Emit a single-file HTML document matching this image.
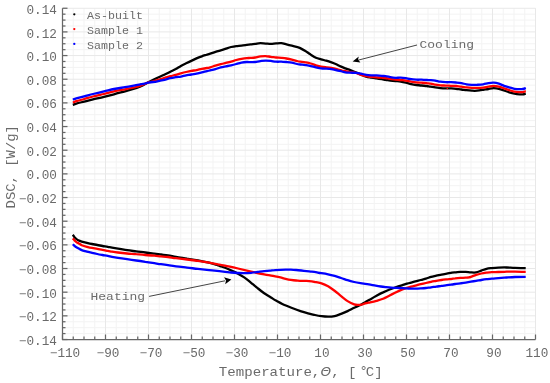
<!DOCTYPE html>
<html><head><meta charset="utf-8"><title>DSC</title>
<style>
html,body{margin:0;padding:0;background:#fff;width:550px;height:383px;overflow:hidden}
svg{display:block}
text{font-family:"Liberation Mono","DejaVu Sans Mono",monospace;fill:#6a6a6a}
</style></head><body>
<svg width="550" height="383" viewBox="0 0 550 383">
<rect width="550" height="383" fill="#fff"/>
<g stroke-width="1">
<line x1="73.25" y1="8.2" x2="73.25" y2="339.5" stroke="#f3f3f3"/>
<line x1="84.00" y1="8.2" x2="84.00" y2="339.5" stroke="#f3f3f3"/>
<line x1="94.75" y1="8.2" x2="94.75" y2="339.5" stroke="#f3f3f3"/>
<line x1="116.25" y1="8.2" x2="116.25" y2="339.5" stroke="#f3f3f3"/>
<line x1="127.00" y1="8.2" x2="127.00" y2="339.5" stroke="#f3f3f3"/>
<line x1="137.75" y1="8.2" x2="137.75" y2="339.5" stroke="#f3f3f3"/>
<line x1="159.25" y1="8.2" x2="159.25" y2="339.5" stroke="#f3f3f3"/>
<line x1="170.00" y1="8.2" x2="170.00" y2="339.5" stroke="#f3f3f3"/>
<line x1="180.75" y1="8.2" x2="180.75" y2="339.5" stroke="#f3f3f3"/>
<line x1="202.25" y1="8.2" x2="202.25" y2="339.5" stroke="#f3f3f3"/>
<line x1="213.00" y1="8.2" x2="213.00" y2="339.5" stroke="#f3f3f3"/>
<line x1="223.75" y1="8.2" x2="223.75" y2="339.5" stroke="#f3f3f3"/>
<line x1="245.25" y1="8.2" x2="245.25" y2="339.5" stroke="#f3f3f3"/>
<line x1="256.00" y1="8.2" x2="256.00" y2="339.5" stroke="#f3f3f3"/>
<line x1="266.75" y1="8.2" x2="266.75" y2="339.5" stroke="#f3f3f3"/>
<line x1="288.25" y1="8.2" x2="288.25" y2="339.5" stroke="#f3f3f3"/>
<line x1="299.00" y1="8.2" x2="299.00" y2="339.5" stroke="#f3f3f3"/>
<line x1="309.75" y1="8.2" x2="309.75" y2="339.5" stroke="#f3f3f3"/>
<line x1="331.25" y1="8.2" x2="331.25" y2="339.5" stroke="#f3f3f3"/>
<line x1="342.00" y1="8.2" x2="342.00" y2="339.5" stroke="#f3f3f3"/>
<line x1="352.75" y1="8.2" x2="352.75" y2="339.5" stroke="#f3f3f3"/>
<line x1="374.25" y1="8.2" x2="374.25" y2="339.5" stroke="#f3f3f3"/>
<line x1="385.00" y1="8.2" x2="385.00" y2="339.5" stroke="#f3f3f3"/>
<line x1="395.75" y1="8.2" x2="395.75" y2="339.5" stroke="#f3f3f3"/>
<line x1="417.25" y1="8.2" x2="417.25" y2="339.5" stroke="#f3f3f3"/>
<line x1="428.00" y1="8.2" x2="428.00" y2="339.5" stroke="#f3f3f3"/>
<line x1="438.75" y1="8.2" x2="438.75" y2="339.5" stroke="#f3f3f3"/>
<line x1="460.25" y1="8.2" x2="460.25" y2="339.5" stroke="#f3f3f3"/>
<line x1="471.00" y1="8.2" x2="471.00" y2="339.5" stroke="#f3f3f3"/>
<line x1="481.75" y1="8.2" x2="481.75" y2="339.5" stroke="#f3f3f3"/>
<line x1="503.25" y1="8.2" x2="503.25" y2="339.5" stroke="#f3f3f3"/>
<line x1="514.00" y1="8.2" x2="514.00" y2="339.5" stroke="#f3f3f3"/>
<line x1="524.75" y1="8.2" x2="524.75" y2="339.5" stroke="#f3f3f3"/>
<line x1="62.5" y1="14.17" x2="535.5" y2="14.17" stroke="#f3f3f3"/>
<line x1="62.5" y1="20.08" x2="535.5" y2="20.08" stroke="#f3f3f3"/>
<line x1="62.5" y1="26.00" x2="535.5" y2="26.00" stroke="#f3f3f3"/>
<line x1="62.5" y1="37.83" x2="535.5" y2="37.83" stroke="#f3f3f3"/>
<line x1="62.5" y1="43.74" x2="535.5" y2="43.74" stroke="#f3f3f3"/>
<line x1="62.5" y1="49.66" x2="535.5" y2="49.66" stroke="#f3f3f3"/>
<line x1="62.5" y1="61.49" x2="535.5" y2="61.49" stroke="#f3f3f3"/>
<line x1="62.5" y1="67.40" x2="535.5" y2="67.40" stroke="#f3f3f3"/>
<line x1="62.5" y1="73.32" x2="535.5" y2="73.32" stroke="#f3f3f3"/>
<line x1="62.5" y1="85.15" x2="535.5" y2="85.15" stroke="#f3f3f3"/>
<line x1="62.5" y1="91.06" x2="535.5" y2="91.06" stroke="#f3f3f3"/>
<line x1="62.5" y1="96.98" x2="535.5" y2="96.98" stroke="#f3f3f3"/>
<line x1="62.5" y1="108.81" x2="535.5" y2="108.81" stroke="#f3f3f3"/>
<line x1="62.5" y1="114.72" x2="535.5" y2="114.72" stroke="#f3f3f3"/>
<line x1="62.5" y1="120.64" x2="535.5" y2="120.64" stroke="#f3f3f3"/>
<line x1="62.5" y1="132.47" x2="535.5" y2="132.47" stroke="#f3f3f3"/>
<line x1="62.5" y1="138.38" x2="535.5" y2="138.38" stroke="#f3f3f3"/>
<line x1="62.5" y1="144.30" x2="535.5" y2="144.30" stroke="#f3f3f3"/>
<line x1="62.5" y1="156.13" x2="535.5" y2="156.13" stroke="#f3f3f3"/>
<line x1="62.5" y1="162.04" x2="535.5" y2="162.04" stroke="#f3f3f3"/>
<line x1="62.5" y1="167.96" x2="535.5" y2="167.96" stroke="#f3f3f3"/>
<line x1="62.5" y1="179.79" x2="535.5" y2="179.79" stroke="#f3f3f3"/>
<line x1="62.5" y1="185.71" x2="535.5" y2="185.71" stroke="#f3f3f3"/>
<line x1="62.5" y1="191.62" x2="535.5" y2="191.62" stroke="#f3f3f3"/>
<line x1="62.5" y1="203.45" x2="535.5" y2="203.45" stroke="#f3f3f3"/>
<line x1="62.5" y1="209.37" x2="535.5" y2="209.37" stroke="#f3f3f3"/>
<line x1="62.5" y1="215.28" x2="535.5" y2="215.28" stroke="#f3f3f3"/>
<line x1="62.5" y1="227.11" x2="535.5" y2="227.11" stroke="#f3f3f3"/>
<line x1="62.5" y1="233.03" x2="535.5" y2="233.03" stroke="#f3f3f3"/>
<line x1="62.5" y1="238.94" x2="535.5" y2="238.94" stroke="#f3f3f3"/>
<line x1="62.5" y1="250.77" x2="535.5" y2="250.77" stroke="#f3f3f3"/>
<line x1="62.5" y1="256.69" x2="535.5" y2="256.69" stroke="#f3f3f3"/>
<line x1="62.5" y1="262.60" x2="535.5" y2="262.60" stroke="#f3f3f3"/>
<line x1="62.5" y1="274.43" x2="535.5" y2="274.43" stroke="#f3f3f3"/>
<line x1="62.5" y1="280.35" x2="535.5" y2="280.35" stroke="#f3f3f3"/>
<line x1="62.5" y1="286.26" x2="535.5" y2="286.26" stroke="#f3f3f3"/>
<line x1="62.5" y1="298.09" x2="535.5" y2="298.09" stroke="#f3f3f3"/>
<line x1="62.5" y1="304.01" x2="535.5" y2="304.01" stroke="#f3f3f3"/>
<line x1="62.5" y1="309.92" x2="535.5" y2="309.92" stroke="#f3f3f3"/>
<line x1="62.5" y1="321.75" x2="535.5" y2="321.75" stroke="#f3f3f3"/>
<line x1="62.5" y1="327.67" x2="535.5" y2="327.67" stroke="#f3f3f3"/>
<line x1="62.5" y1="333.58" x2="535.5" y2="333.58" stroke="#f3f3f3"/>
<line x1="62.50" y1="8.2" x2="62.50" y2="339.5" stroke="#e8e8e8"/>
<line x1="105.50" y1="8.2" x2="105.50" y2="339.5" stroke="#e8e8e8"/>
<line x1="148.50" y1="8.2" x2="148.50" y2="339.5" stroke="#e8e8e8"/>
<line x1="191.50" y1="8.2" x2="191.50" y2="339.5" stroke="#e8e8e8"/>
<line x1="234.50" y1="8.2" x2="234.50" y2="339.5" stroke="#e8e8e8"/>
<line x1="277.50" y1="8.2" x2="277.50" y2="339.5" stroke="#e8e8e8"/>
<line x1="320.50" y1="8.2" x2="320.50" y2="339.5" stroke="#e8e8e8"/>
<line x1="363.50" y1="8.2" x2="363.50" y2="339.5" stroke="#e8e8e8"/>
<line x1="406.50" y1="8.2" x2="406.50" y2="339.5" stroke="#e8e8e8"/>
<line x1="449.50" y1="8.2" x2="449.50" y2="339.5" stroke="#e8e8e8"/>
<line x1="492.50" y1="8.2" x2="492.50" y2="339.5" stroke="#e8e8e8"/>
<line x1="535.50" y1="8.2" x2="535.50" y2="339.5" stroke="#e8e8e8"/>
<line x1="62.5" y1="8.25" x2="535.5" y2="8.25" stroke="#e8e8e8"/>
<line x1="62.5" y1="31.91" x2="535.5" y2="31.91" stroke="#e8e8e8"/>
<line x1="62.5" y1="55.57" x2="535.5" y2="55.57" stroke="#e8e8e8"/>
<line x1="62.5" y1="79.23" x2="535.5" y2="79.23" stroke="#e8e8e8"/>
<line x1="62.5" y1="102.89" x2="535.5" y2="102.89" stroke="#e8e8e8"/>
<line x1="62.5" y1="126.55" x2="535.5" y2="126.55" stroke="#e8e8e8"/>
<line x1="62.5" y1="150.21" x2="535.5" y2="150.21" stroke="#e8e8e8"/>
<line x1="62.5" y1="173.88" x2="535.5" y2="173.88" stroke="#e8e8e8"/>
<line x1="62.5" y1="197.54" x2="535.5" y2="197.54" stroke="#e8e8e8"/>
<line x1="62.5" y1="221.20" x2="535.5" y2="221.20" stroke="#e8e8e8"/>
<line x1="62.5" y1="244.86" x2="535.5" y2="244.86" stroke="#e8e8e8"/>
<line x1="62.5" y1="268.52" x2="535.5" y2="268.52" stroke="#e8e8e8"/>
<line x1="62.5" y1="292.18" x2="535.5" y2="292.18" stroke="#e8e8e8"/>
<line x1="62.5" y1="315.84" x2="535.5" y2="315.84" stroke="#e8e8e8"/>
<line x1="62.5" y1="339.50" x2="535.5" y2="339.50" stroke="#e8e8e8"/>
</g>
<g stroke="#666" stroke-width="1.25">
<line x1="62.5" y1="8.2" x2="62.5" y2="340.0"/>
<line x1="62.0" y1="339.5" x2="535.5" y2="339.5"/>
<line x1="62.50" y1="339.5" x2="62.50" y2="334.5"/>
<line x1="73.25" y1="339.5" x2="73.25" y2="336.5"/>
<line x1="84.00" y1="339.5" x2="84.00" y2="336.5"/>
<line x1="94.75" y1="339.5" x2="94.75" y2="336.5"/>
<line x1="105.50" y1="339.5" x2="105.50" y2="334.5"/>
<line x1="116.25" y1="339.5" x2="116.25" y2="336.5"/>
<line x1="127.00" y1="339.5" x2="127.00" y2="336.5"/>
<line x1="137.75" y1="339.5" x2="137.75" y2="336.5"/>
<line x1="148.50" y1="339.5" x2="148.50" y2="334.5"/>
<line x1="159.25" y1="339.5" x2="159.25" y2="336.5"/>
<line x1="170.00" y1="339.5" x2="170.00" y2="336.5"/>
<line x1="180.75" y1="339.5" x2="180.75" y2="336.5"/>
<line x1="191.50" y1="339.5" x2="191.50" y2="334.5"/>
<line x1="202.25" y1="339.5" x2="202.25" y2="336.5"/>
<line x1="213.00" y1="339.5" x2="213.00" y2="336.5"/>
<line x1="223.75" y1="339.5" x2="223.75" y2="336.5"/>
<line x1="234.50" y1="339.5" x2="234.50" y2="334.5"/>
<line x1="245.25" y1="339.5" x2="245.25" y2="336.5"/>
<line x1="256.00" y1="339.5" x2="256.00" y2="336.5"/>
<line x1="266.75" y1="339.5" x2="266.75" y2="336.5"/>
<line x1="277.50" y1="339.5" x2="277.50" y2="334.5"/>
<line x1="288.25" y1="339.5" x2="288.25" y2="336.5"/>
<line x1="299.00" y1="339.5" x2="299.00" y2="336.5"/>
<line x1="309.75" y1="339.5" x2="309.75" y2="336.5"/>
<line x1="320.50" y1="339.5" x2="320.50" y2="334.5"/>
<line x1="331.25" y1="339.5" x2="331.25" y2="336.5"/>
<line x1="342.00" y1="339.5" x2="342.00" y2="336.5"/>
<line x1="352.75" y1="339.5" x2="352.75" y2="336.5"/>
<line x1="363.50" y1="339.5" x2="363.50" y2="334.5"/>
<line x1="374.25" y1="339.5" x2="374.25" y2="336.5"/>
<line x1="385.00" y1="339.5" x2="385.00" y2="336.5"/>
<line x1="395.75" y1="339.5" x2="395.75" y2="336.5"/>
<line x1="406.50" y1="339.5" x2="406.50" y2="334.5"/>
<line x1="417.25" y1="339.5" x2="417.25" y2="336.5"/>
<line x1="428.00" y1="339.5" x2="428.00" y2="336.5"/>
<line x1="438.75" y1="339.5" x2="438.75" y2="336.5"/>
<line x1="449.50" y1="339.5" x2="449.50" y2="334.5"/>
<line x1="460.25" y1="339.5" x2="460.25" y2="336.5"/>
<line x1="471.00" y1="339.5" x2="471.00" y2="336.5"/>
<line x1="481.75" y1="339.5" x2="481.75" y2="336.5"/>
<line x1="492.50" y1="339.5" x2="492.50" y2="334.5"/>
<line x1="503.25" y1="339.5" x2="503.25" y2="336.5"/>
<line x1="514.00" y1="339.5" x2="514.00" y2="336.5"/>
<line x1="524.75" y1="339.5" x2="524.75" y2="336.5"/>
<line x1="535.50" y1="339.5" x2="535.50" y2="334.5"/>
<line x1="62.5" y1="8.25" x2="67.5" y2="8.25"/>
<line x1="62.5" y1="14.17" x2="65.5" y2="14.17"/>
<line x1="62.5" y1="20.08" x2="65.5" y2="20.08"/>
<line x1="62.5" y1="26.00" x2="65.5" y2="26.00"/>
<line x1="62.5" y1="31.91" x2="67.5" y2="31.91"/>
<line x1="62.5" y1="37.83" x2="65.5" y2="37.83"/>
<line x1="62.5" y1="43.74" x2="65.5" y2="43.74"/>
<line x1="62.5" y1="49.66" x2="65.5" y2="49.66"/>
<line x1="62.5" y1="55.57" x2="67.5" y2="55.57"/>
<line x1="62.5" y1="61.49" x2="65.5" y2="61.49"/>
<line x1="62.5" y1="67.40" x2="65.5" y2="67.40"/>
<line x1="62.5" y1="73.32" x2="65.5" y2="73.32"/>
<line x1="62.5" y1="79.23" x2="67.5" y2="79.23"/>
<line x1="62.5" y1="85.15" x2="65.5" y2="85.15"/>
<line x1="62.5" y1="91.06" x2="65.5" y2="91.06"/>
<line x1="62.5" y1="96.98" x2="65.5" y2="96.98"/>
<line x1="62.5" y1="102.89" x2="67.5" y2="102.89"/>
<line x1="62.5" y1="108.81" x2="65.5" y2="108.81"/>
<line x1="62.5" y1="114.72" x2="65.5" y2="114.72"/>
<line x1="62.5" y1="120.64" x2="65.5" y2="120.64"/>
<line x1="62.5" y1="126.55" x2="67.5" y2="126.55"/>
<line x1="62.5" y1="132.47" x2="65.5" y2="132.47"/>
<line x1="62.5" y1="138.38" x2="65.5" y2="138.38"/>
<line x1="62.5" y1="144.30" x2="65.5" y2="144.30"/>
<line x1="62.5" y1="150.21" x2="67.5" y2="150.21"/>
<line x1="62.5" y1="156.13" x2="65.5" y2="156.13"/>
<line x1="62.5" y1="162.04" x2="65.5" y2="162.04"/>
<line x1="62.5" y1="167.96" x2="65.5" y2="167.96"/>
<line x1="62.5" y1="173.88" x2="67.5" y2="173.88"/>
<line x1="62.5" y1="179.79" x2="65.5" y2="179.79"/>
<line x1="62.5" y1="185.71" x2="65.5" y2="185.71"/>
<line x1="62.5" y1="191.62" x2="65.5" y2="191.62"/>
<line x1="62.5" y1="197.54" x2="67.5" y2="197.54"/>
<line x1="62.5" y1="203.45" x2="65.5" y2="203.45"/>
<line x1="62.5" y1="209.37" x2="65.5" y2="209.37"/>
<line x1="62.5" y1="215.28" x2="65.5" y2="215.28"/>
<line x1="62.5" y1="221.20" x2="67.5" y2="221.20"/>
<line x1="62.5" y1="227.11" x2="65.5" y2="227.11"/>
<line x1="62.5" y1="233.03" x2="65.5" y2="233.03"/>
<line x1="62.5" y1="238.94" x2="65.5" y2="238.94"/>
<line x1="62.5" y1="244.86" x2="67.5" y2="244.86"/>
<line x1="62.5" y1="250.77" x2="65.5" y2="250.77"/>
<line x1="62.5" y1="256.69" x2="65.5" y2="256.69"/>
<line x1="62.5" y1="262.60" x2="65.5" y2="262.60"/>
<line x1="62.5" y1="268.52" x2="67.5" y2="268.52"/>
<line x1="62.5" y1="274.43" x2="65.5" y2="274.43"/>
<line x1="62.5" y1="280.35" x2="65.5" y2="280.35"/>
<line x1="62.5" y1="286.26" x2="65.5" y2="286.26"/>
<line x1="62.5" y1="292.18" x2="67.5" y2="292.18"/>
<line x1="62.5" y1="298.09" x2="65.5" y2="298.09"/>
<line x1="62.5" y1="304.01" x2="65.5" y2="304.01"/>
<line x1="62.5" y1="309.92" x2="65.5" y2="309.92"/>
<line x1="62.5" y1="315.84" x2="67.5" y2="315.84"/>
<line x1="62.5" y1="321.75" x2="65.5" y2="321.75"/>
<line x1="62.5" y1="327.67" x2="65.5" y2="327.67"/>
<line x1="62.5" y1="333.58" x2="65.5" y2="333.58"/>
<line x1="62.5" y1="339.50" x2="67.5" y2="339.50"/>
</g>
<text transform="translate(56.90,13.85) scale(1,0.950)" font-size="12.7" text-anchor="end" fill="#777">0.14</text>
<text transform="translate(56.90,37.51) scale(1,0.950)" font-size="12.7" text-anchor="end" fill="#777">0.12</text>
<text transform="translate(56.90,61.17) scale(1,0.950)" font-size="12.7" text-anchor="end" fill="#777">0.10</text>
<text transform="translate(56.90,84.83) scale(1,0.950)" font-size="12.7" text-anchor="end" fill="#777">0.08</text>
<text transform="translate(56.90,108.49) scale(1,0.950)" font-size="12.7" text-anchor="end" fill="#777">0.06</text>
<text transform="translate(56.90,132.15) scale(1,0.950)" font-size="12.7" text-anchor="end" fill="#777">0.04</text>
<text transform="translate(56.90,155.81) scale(1,0.950)" font-size="12.7" text-anchor="end" fill="#777">0.02</text>
<text transform="translate(56.90,179.47) scale(1,0.950)" font-size="12.7" text-anchor="end" fill="#777">0.00</text>
<text transform="translate(56.90,203.14) scale(1,0.950)" font-size="12.7" text-anchor="end" fill="#777">−0.02</text>
<text transform="translate(56.90,226.80) scale(1,0.950)" font-size="12.7" text-anchor="end" fill="#777">−0.04</text>
<text transform="translate(56.90,250.46) scale(1,0.950)" font-size="12.7" text-anchor="end" fill="#777">−0.06</text>
<text transform="translate(56.90,274.12) scale(1,0.950)" font-size="12.7" text-anchor="end" fill="#777">−0.08</text>
<text transform="translate(56.90,297.78) scale(1,0.950)" font-size="12.7" text-anchor="end" fill="#777">−0.10</text>
<text transform="translate(56.90,321.44) scale(1,0.950)" font-size="12.7" text-anchor="end" fill="#777">−0.12</text>
<text transform="translate(56.90,345.10) scale(1,0.950)" font-size="12.7" text-anchor="end" fill="#777">−0.14</text>
<text transform="translate(65.00,357.30) scale(1,0.950)" font-size="12.7" text-anchor="middle" fill="#777">−110</text>
<text transform="translate(108.00,357.30) scale(1,0.950)" font-size="12.7" text-anchor="middle" fill="#777">−90</text>
<text transform="translate(151.00,357.30) scale(1,0.950)" font-size="12.7" text-anchor="middle" fill="#777">−70</text>
<text transform="translate(194.00,357.30) scale(1,0.950)" font-size="12.7" text-anchor="middle" fill="#777">−50</text>
<text transform="translate(237.00,357.30) scale(1,0.950)" font-size="12.7" text-anchor="middle" fill="#777">−30</text>
<text transform="translate(280.00,357.30) scale(1,0.950)" font-size="12.7" text-anchor="middle" fill="#777">−10</text>
<text transform="translate(321.90,357.30) scale(1,0.950)" font-size="12.7" text-anchor="middle" fill="#777">10</text>
<text transform="translate(364.90,357.30) scale(1,0.950)" font-size="12.7" text-anchor="middle" fill="#777">30</text>
<text transform="translate(407.90,357.30) scale(1,0.950)" font-size="12.7" text-anchor="middle" fill="#777">50</text>
<text transform="translate(450.90,357.30) scale(1,0.950)" font-size="12.7" text-anchor="middle" fill="#777">70</text>
<text transform="translate(493.90,357.30) scale(1,0.950)" font-size="12.7" text-anchor="middle" fill="#777">90</text>
<text transform="translate(536.90,357.30) scale(1,0.950)" font-size="12.7" text-anchor="middle" fill="#777">110</text>
<text transform="translate(218.87,375.70) scale(1,0.920)" font-size="14.1">Temperature,</text>
<text transform="translate(320.6,375.7) scale(1,0.92)" font-size="13.6" font-style="italic" style="font-family:'DejaVu Sans',sans-serif">&#920;</text>
<text transform="translate(331.20,375.70) scale(1,0.920)" font-size="14.1">, [</text>
<text transform="translate(360.4,375.4)" font-size="12.5" style="font-family:'DejaVu Sans',sans-serif">&#176;</text>
<text transform="translate(365.80,375.70) scale(1,0.920)" font-size="14.1">C]</text>
<text transform="translate(15.0,208.4) rotate(-90) scale(1,0.92)" font-size="13.9">DSC, [W/g]</text>
<path d="M72.8,104.9 C73.4,104.7 74.4,104.1 76.3,103.6 C78.2,103.0 81.4,102.3 84.2,101.6 C87.0,100.9 89.7,100.2 93.0,99.4 C96.3,98.6 100.5,97.7 104.0,96.8 C107.5,95.9 110.5,95.2 114.0,94.3 C117.5,93.4 121.3,92.3 125.0,91.3 C128.7,90.3 133.3,89.0 136.0,88.2 C138.7,87.4 139.4,86.9 141.0,86.2 C142.6,85.5 144.4,84.5 145.6,83.8 C146.8,83.1 146.4,83.2 148.4,82.2 C150.4,81.2 154.7,79.1 157.5,77.8 C160.3,76.5 163.0,75.3 165.2,74.3 C167.3,73.3 168.7,72.6 170.4,71.7 C172.2,70.8 173.9,70.1 175.7,69.1 C177.4,68.1 179.2,66.9 180.9,65.9 C182.6,64.9 184.4,64.1 186.1,63.3 C187.8,62.5 189.6,61.7 191.3,60.9 C193.0,60.1 194.8,59.2 196.5,58.4 C198.2,57.6 200.2,56.9 201.8,56.3 C203.4,55.7 204.6,55.4 206.0,55.0 C207.4,54.6 208.6,54.2 210.2,53.7 C211.8,53.2 213.7,52.5 215.4,51.9 C217.2,51.3 218.9,50.9 220.7,50.4 C222.4,49.9 224.2,49.3 225.9,48.7 C227.6,48.1 229.4,47.4 231.1,47.0 C232.8,46.6 234.6,46.3 236.3,46.1 C238.0,45.9 239.8,45.8 241.5,45.6 C243.2,45.4 245.3,45.1 246.8,44.9 C248.3,44.7 249.1,44.6 250.5,44.4 C251.9,44.2 253.5,44.1 255.2,43.9 C256.8,43.7 258.6,43.2 260.4,43.2 C262.1,43.2 263.9,43.5 265.7,43.6 C267.4,43.7 269.2,43.9 270.9,43.9 C272.6,43.9 274.4,43.5 276.1,43.4 C277.8,43.3 279.6,43.0 281.3,43.2 C283.0,43.4 284.8,44.0 286.5,44.4 C288.2,44.8 290.1,45.3 291.8,45.7 C293.5,46.1 295.1,46.5 296.5,46.9 C297.9,47.3 298.7,47.4 300.2,48.1 C301.7,48.8 303.6,49.9 305.4,51.0 C307.1,52.1 308.9,53.5 310.7,54.6 C312.4,55.7 314.2,56.9 315.9,57.7 C317.6,58.5 319.4,58.8 321.1,59.3 C322.8,59.8 324.6,60.2 326.3,60.7 C328.0,61.2 329.8,61.8 331.5,62.4 C333.2,63.0 335.3,63.8 336.8,64.5 C338.3,65.2 339.1,65.8 340.5,66.4 C341.9,67.0 343.6,67.7 345.2,68.3 C346.8,68.9 348.6,69.4 350.4,70.1 C352.1,70.8 353.9,71.5 355.7,72.2 C357.4,73.0 359.2,73.8 360.9,74.6 C362.6,75.3 364.4,76.2 366.1,76.7 C367.8,77.2 369.6,77.4 371.3,77.7 C373.0,78.0 374.8,78.2 376.5,78.4 C378.2,78.7 380.3,79.0 381.8,79.2 C383.3,79.4 384.1,79.6 385.5,79.8 C386.9,80.0 388.6,80.4 390.2,80.6 C391.8,80.8 393.6,80.8 395.4,81.0 C397.1,81.2 398.9,81.3 400.7,81.6 C402.4,81.9 404.2,82.3 405.9,82.7 C407.6,83.1 409.4,83.7 411.1,84.1 C412.8,84.5 414.6,84.8 416.3,85.0 C418.0,85.2 419.8,85.3 421.5,85.5 C423.2,85.7 425.3,85.8 426.8,86.0 C428.3,86.2 429.1,86.5 430.5,86.7 C431.9,86.9 433.6,87.2 435.2,87.4 C436.8,87.6 438.6,87.9 440.4,88.1 C442.1,88.3 443.9,88.4 445.7,88.4 C447.4,88.5 449.2,88.3 450.9,88.4 C452.6,88.5 454.4,88.6 456.1,88.8 C457.8,89.0 459.6,89.3 461.3,89.5 C463.0,89.7 464.8,90.0 466.5,90.2 C468.2,90.4 470.1,90.6 471.8,90.7 C473.6,90.8 475.1,90.9 477.0,90.7 C478.9,90.5 481.3,90.1 483.2,89.8 C485.1,89.5 486.6,89.3 488.4,89.0 C490.1,88.7 491.9,88.2 493.7,88.2 C495.4,88.2 497.2,88.4 498.9,88.8 C500.6,89.2 502.4,89.9 504.1,90.5 C505.8,91.1 507.6,91.8 509.3,92.3 C511.0,92.8 512.8,93.3 514.5,93.7 C516.2,94.1 518.4,94.3 519.8,94.4 C521.2,94.5 521.9,94.5 522.9,94.4 C523.9,94.3 525.3,93.7 525.8,93.6" fill="none" stroke="#000" stroke-width="2.3" stroke-linejoin="round" stroke-linecap="butt"/>
<path d="M72.8,234.8 C73.1,235.2 73.9,236.5 74.5,237.2 C75.1,237.9 75.7,238.4 76.4,239.0 C77.1,239.6 77.9,240.1 78.8,240.5 C79.7,240.9 80.3,241.2 81.7,241.6 C83.1,242.0 85.2,242.5 86.9,242.9 C88.6,243.3 90.4,243.7 92.1,244.0 C93.8,244.3 95.6,244.7 97.3,245.0 C99.0,245.3 100.8,245.7 102.5,246.0 C104.2,246.3 106.2,246.5 107.8,246.8 C109.4,247.1 110.3,247.3 112.0,247.6 C113.7,247.9 115.5,248.2 118.0,248.6 C120.5,249.0 124.1,249.7 127.1,250.2 C130.1,250.7 133.2,251.0 136.2,251.4 C139.2,251.8 142.3,252.1 145.3,252.5 C148.3,252.9 151.8,253.3 154.4,253.6 C157.0,253.9 158.7,254.2 161.0,254.5 C163.3,254.8 165.5,255.0 168.0,255.4 C170.5,255.8 172.8,256.4 176.0,257.0 C179.2,257.6 183.3,258.1 187.0,258.7 C190.7,259.2 194.3,259.6 198.0,260.3 C201.7,261.0 206.0,261.9 209.0,262.6 C212.0,263.3 214.2,264.1 216.0,264.7 C217.8,265.3 218.5,265.6 220.0,266.1 C221.5,266.6 223.2,267.1 225.0,267.8 C226.8,268.5 228.8,269.4 231.0,270.4 C233.2,271.4 235.7,272.5 238.0,273.7 C240.3,274.9 242.4,276.1 244.6,277.6 C246.8,279.1 248.9,281.1 251.1,282.8 C253.3,284.6 255.4,286.4 257.6,288.1 C259.8,289.9 262.1,291.8 264.2,293.3 C266.3,294.8 268.5,296.0 270.5,297.2 C272.5,298.4 274.0,299.5 276.0,300.6 C278.0,301.7 279.7,302.8 282.3,304.0 C284.9,305.2 288.4,306.6 291.4,307.8 C294.4,309.0 297.7,310.2 300.5,311.1 C303.3,312.0 305.6,312.8 308.0,313.4 C310.4,314.0 312.8,314.5 315.0,315.0 C317.2,315.5 319.3,315.9 321.5,316.2 C323.7,316.5 325.9,316.7 328.1,316.7 C330.3,316.7 332.4,316.6 334.6,316.1 C336.8,315.6 338.9,314.6 341.1,313.8 C343.3,313.0 345.4,312.1 347.6,311.1 C349.8,310.1 352.1,308.8 354.2,307.8 C356.3,306.8 358.7,305.9 360.5,305.0 C362.3,304.1 363.6,303.1 365.2,302.2 C366.8,301.3 368.1,300.6 370.0,299.5 C371.9,298.4 374.3,297.0 376.5,295.8 C378.7,294.6 380.9,293.4 383.1,292.4 C385.3,291.3 387.6,290.3 389.6,289.5 C391.6,288.7 393.0,288.3 395.0,287.6 C397.0,286.9 399.8,286.0 401.8,285.4 C403.8,284.8 405.6,284.1 407.0,283.7 C408.4,283.3 408.8,283.2 410.2,282.8 C411.6,282.4 413.6,281.9 415.4,281.4 C417.1,280.9 418.9,280.5 420.7,280.0 C422.4,279.5 424.2,279.1 425.9,278.6 C427.6,278.1 429.4,277.4 431.1,276.9 C432.8,276.4 434.6,276.1 436.3,275.7 C438.0,275.3 439.8,275.0 441.5,274.6 C443.2,274.2 445.1,273.9 446.8,273.6 C448.6,273.3 450.6,272.9 452.0,272.7 C453.4,272.5 453.8,272.5 455.2,272.4 C456.6,272.3 458.6,272.0 460.4,271.9 C462.1,271.8 463.9,271.8 465.7,271.9 C467.4,272.0 469.2,272.3 470.9,272.4 C472.6,272.5 474.4,272.7 476.1,272.4 C477.8,272.1 479.6,271.2 481.3,270.6 C483.0,270.0 484.8,269.2 486.5,268.8 C488.2,268.4 489.8,268.3 491.8,268.1 C493.8,267.9 495.9,267.7 498.4,267.6 C500.9,267.5 503.9,267.4 506.7,267.5 C509.5,267.6 511.8,267.8 515.0,267.9 C518.2,268.0 523.9,268.1 525.7,268.1" fill="none" stroke="#000" stroke-width="2.3" stroke-linejoin="round" stroke-linecap="butt"/>
<path d="M72.8,102.5 C73.4,102.3 74.4,101.8 76.3,101.2 C78.2,100.6 81.4,99.8 84.2,99.0 C87.0,98.2 89.7,97.3 93.0,96.5 C96.3,95.7 100.5,94.8 104.0,94.0 C107.5,93.2 110.5,92.2 114.0,91.4 C117.5,90.6 121.3,90.0 125.0,89.3 C128.7,88.6 133.3,87.7 136.0,87.0 C138.7,86.3 139.4,86.0 141.0,85.4 C142.6,84.8 144.4,84.1 145.6,83.6 C146.8,83.1 147.2,82.8 148.4,82.4 C149.6,82.0 151.5,81.7 153.0,81.3 C154.5,80.9 156.0,80.5 157.5,80.1 C159.0,79.7 160.7,79.3 162.0,78.9 C163.3,78.5 163.8,78.0 165.2,77.6 C166.6,77.1 168.7,76.7 170.4,76.2 C172.2,75.7 173.9,75.3 175.7,74.8 C177.4,74.3 179.2,73.9 180.9,73.4 C182.6,72.9 184.4,72.4 186.1,72.0 C187.8,71.6 189.6,71.2 191.3,70.9 C193.0,70.6 194.8,70.4 196.5,70.1 C198.2,69.8 200.1,69.1 201.8,68.8 C203.6,68.5 205.6,68.2 207.0,68.0 C208.4,67.8 208.8,67.7 210.2,67.3 C211.6,66.9 213.7,66.2 215.4,65.7 C217.2,65.2 218.9,64.7 220.7,64.2 C222.4,63.7 224.2,63.3 225.9,62.9 C227.6,62.5 229.4,62.1 231.1,61.6 C232.8,61.1 234.6,60.5 236.3,60.0 C238.0,59.5 239.8,59.1 241.5,58.8 C243.2,58.5 245.3,58.2 246.8,58.1 C248.3,58.0 249.1,58.0 250.5,57.9 C251.9,57.8 253.5,57.8 255.2,57.5 C256.8,57.2 258.6,56.6 260.4,56.4 C262.1,56.2 263.9,56.0 265.7,56.1 C267.4,56.2 269.2,56.6 270.9,56.8 C272.6,57.0 274.4,57.3 276.1,57.5 C277.8,57.7 279.6,57.6 281.3,57.8 C283.0,58.0 284.8,58.2 286.5,58.5 C288.2,58.8 290.1,59.2 291.8,59.6 C293.6,60.0 295.6,60.6 297.0,61.0 C298.4,61.4 298.8,61.5 300.2,61.7 C301.6,61.9 303.6,62.1 305.4,62.4 C307.1,62.7 308.9,63.0 310.7,63.5 C312.4,64.0 314.2,64.8 315.9,65.3 C317.6,65.8 319.4,66.3 321.1,66.6 C322.8,66.9 324.6,67.1 326.3,67.3 C328.0,67.5 329.8,67.7 331.5,68.0 C333.2,68.3 335.1,68.6 336.8,69.0 C338.6,69.4 340.6,70.2 342.0,70.6 C343.4,70.9 343.8,70.8 345.2,71.1 C346.6,71.4 348.6,71.9 350.4,72.2 C352.1,72.5 353.9,72.5 355.7,72.9 C357.4,73.3 359.2,74.3 360.9,74.8 C362.6,75.3 364.4,75.7 366.1,76.0 C367.8,76.3 369.6,76.7 371.3,76.9 C373.0,77.1 374.8,77.3 376.5,77.4 C378.2,77.5 380.3,77.6 381.8,77.7 C383.3,77.8 384.1,77.8 385.5,78.0 C386.9,78.2 388.6,78.7 390.2,78.9 C391.8,79.2 393.6,79.3 395.4,79.5 C397.1,79.7 398.9,79.8 400.7,80.0 C402.4,80.2 404.2,80.3 405.9,80.6 C407.6,80.9 409.4,81.3 411.1,81.6 C412.8,81.9 414.6,82.2 416.3,82.4 C418.0,82.6 419.8,82.6 421.5,82.7 C423.2,82.8 425.3,82.9 426.8,83.1 C428.3,83.3 429.1,83.5 430.5,83.7 C431.9,84.0 433.6,84.3 435.2,84.6 C436.8,84.9 438.6,85.1 440.4,85.3 C442.1,85.5 443.9,85.5 445.7,85.6 C447.4,85.7 449.2,85.7 450.9,85.8 C452.6,85.9 454.4,85.8 456.1,86.0 C457.8,86.2 459.6,86.5 461.3,86.7 C463.0,86.9 464.8,87.2 466.5,87.4 C468.2,87.6 470.1,87.8 471.8,87.9 C473.6,88.0 475.1,87.9 477.0,87.9 C478.9,87.9 481.3,87.9 483.2,87.7 C485.1,87.5 486.6,87.0 488.4,86.7 C490.1,86.4 491.9,85.9 493.7,85.9 C495.4,85.9 497.2,86.3 498.9,86.7 C500.6,87.1 502.4,87.8 504.1,88.4 C505.8,89.0 507.6,89.7 509.3,90.2 C511.0,90.7 512.8,91.3 514.5,91.6 C516.2,91.9 518.4,92.0 519.8,92.1 C521.2,92.2 521.9,92.2 522.9,92.1 C523.9,91.9 525.3,91.3 525.8,91.2" fill="none" stroke="#f00" stroke-width="2.3" stroke-linejoin="round" stroke-linecap="butt"/>
<path d="M72.8,238.4 C73.1,238.7 73.9,239.8 74.5,240.4 C75.1,241.0 75.7,241.6 76.4,242.1 C77.1,242.6 77.9,242.9 78.8,243.4 C79.7,243.9 80.3,244.6 81.7,245.2 C83.1,245.8 85.2,246.4 86.9,246.8 C88.6,247.2 90.4,247.6 92.1,247.9 C93.8,248.2 95.6,248.6 97.3,248.9 C99.0,249.2 100.8,249.6 102.5,249.9 C104.2,250.2 106.2,250.6 107.8,250.9 C109.4,251.2 110.3,251.3 112.0,251.6 C113.7,251.9 115.5,252.2 118.0,252.5 C120.5,252.8 124.1,253.2 127.1,253.5 C130.1,253.8 133.2,253.8 136.2,254.1 C139.2,254.3 142.3,254.7 145.3,255.0 C148.3,255.3 151.8,255.5 154.4,255.7 C157.0,255.9 158.7,256.2 161.0,256.4 C163.3,256.6 165.5,256.7 168.0,257.0 C170.5,257.3 172.8,257.8 176.0,258.2 C179.2,258.6 183.3,259.1 187.0,259.5 C190.7,259.9 194.3,260.4 198.0,260.9 C201.7,261.4 205.4,262.1 209.0,262.7 C212.6,263.3 216.8,264.1 219.5,264.6 C222.2,265.1 221.9,265.0 225.0,265.6 C228.1,266.2 233.7,267.5 238.0,268.5 C242.3,269.5 246.7,270.6 251.1,271.6 C255.5,272.6 261.1,273.8 264.2,274.4 C267.3,275.0 268.2,275.1 270.0,275.4 C271.8,275.7 273.5,276.1 275.2,276.4 C276.9,276.7 278.6,277.0 280.4,277.4 C282.1,277.8 283.9,278.4 285.7,278.8 C287.4,279.2 289.2,279.6 290.9,279.9 C292.6,280.2 294.4,280.4 296.1,280.5 C297.8,280.6 299.6,280.8 301.3,280.8 C303.0,280.9 304.8,280.7 306.5,280.8 C308.2,280.9 310.2,281.1 311.8,281.3 C313.4,281.5 314.4,281.9 316.0,282.2 C317.6,282.5 319.5,282.6 321.5,283.3 C323.5,284.0 325.9,285.1 328.1,286.3 C330.3,287.6 332.4,289.2 334.6,290.8 C336.8,292.4 338.9,294.4 341.1,296.1 C343.3,297.8 345.4,299.7 347.6,301.1 C349.8,302.5 352.5,303.8 354.2,304.4 C355.9,305.0 356.8,304.9 358.0,304.9 C359.2,304.9 360.3,304.9 361.5,304.6 C362.7,304.4 363.8,303.8 365.2,303.4 C366.6,303.0 368.3,302.7 370.2,302.3 C372.1,301.9 374.4,301.4 376.5,300.8 C378.6,300.2 380.9,299.6 383.1,298.7 C385.3,297.8 387.6,296.5 389.6,295.5 C391.6,294.5 393.0,293.8 395.0,292.8 C397.0,291.8 399.8,290.4 401.8,289.6 C403.8,288.8 405.6,288.2 407.0,287.8 C408.4,287.4 408.8,287.3 410.2,286.9 C411.6,286.5 413.6,286.1 415.4,285.6 C417.1,285.2 418.9,284.6 420.7,284.2 C422.4,283.8 424.2,283.4 425.9,283.0 C427.6,282.6 429.4,282.2 431.1,281.8 C432.8,281.4 434.6,281.2 436.3,280.9 C438.0,280.6 439.8,280.3 441.5,280.0 C443.2,279.7 445.1,279.5 446.8,279.3 C448.6,279.1 450.6,279.0 452.0,278.8 C453.4,278.6 453.8,278.5 455.2,278.4 C456.6,278.2 458.6,278.0 460.4,277.9 C462.1,277.8 464.3,277.8 465.7,277.7 C467.1,277.6 467.8,277.6 468.8,277.4 C469.8,277.2 470.3,277.0 471.5,276.6 C472.7,276.2 474.5,275.4 476.1,274.9 C477.7,274.4 479.6,273.9 481.3,273.5 C483.0,273.1 484.8,272.9 486.5,272.7 C488.2,272.5 489.8,272.3 491.8,272.2 C493.8,272.1 495.9,272.1 498.4,272.0 C500.9,271.9 503.9,271.8 506.7,271.7 C509.5,271.6 511.8,271.7 515.0,271.7 C518.2,271.7 523.9,271.9 525.7,271.9" fill="none" stroke="#f00" stroke-width="2.3" stroke-linejoin="round" stroke-linecap="butt"/>
<path d="M72.8,99.6 C73.4,99.4 74.4,98.8 76.3,98.3 C78.2,97.8 81.4,97.0 84.2,96.3 C87.0,95.6 89.7,94.8 93.0,94.0 C96.3,93.2 100.5,92.2 104.0,91.4 C107.5,90.6 110.5,89.7 114.0,89.0 C117.5,88.3 121.3,87.8 125.0,87.2 C128.7,86.6 133.3,85.7 136.0,85.2 C138.7,84.7 139.4,84.5 141.0,84.2 C142.6,83.9 144.4,83.5 145.6,83.3 C146.8,83.0 147.2,82.9 148.4,82.7 C149.6,82.5 151.5,82.2 153.0,82.0 C154.5,81.8 155.8,81.6 157.5,81.3 C159.2,81.0 160.8,80.7 163.0,80.2 C165.2,79.7 168.3,78.7 170.4,78.2 C172.5,77.7 173.9,77.5 175.7,77.2 C177.4,76.9 179.2,76.9 180.9,76.6 C182.6,76.3 184.4,75.6 186.1,75.3 C187.8,75.0 189.6,74.8 191.3,74.5 C193.0,74.2 194.8,74.0 196.5,73.7 C198.2,73.4 200.1,72.8 201.8,72.4 C203.6,72.0 205.6,71.4 207.0,71.1 C208.4,70.8 208.8,70.7 210.2,70.4 C211.6,70.1 213.7,69.7 215.4,69.2 C217.2,68.7 218.9,67.8 220.7,67.3 C222.4,66.8 224.2,66.6 225.9,66.3 C227.6,66.0 229.4,65.8 231.1,65.4 C232.8,65.0 234.6,64.5 236.3,64.0 C238.0,63.5 239.8,62.9 241.5,62.6 C243.2,62.3 245.3,62.1 246.8,62.0 C248.3,61.9 249.1,62.1 250.5,62.1 C251.9,62.1 253.5,62.2 255.2,62.0 C256.8,61.8 258.6,61.3 260.4,61.1 C262.1,60.9 263.9,60.6 265.7,60.6 C267.4,60.6 269.2,60.7 270.9,60.9 C272.6,61.1 274.4,61.6 276.1,61.7 C277.8,61.8 279.6,61.7 281.3,61.7 C283.0,61.8 284.8,61.8 286.5,62.0 C288.2,62.2 290.1,62.4 291.8,62.7 C293.6,63.0 295.6,63.7 297.0,64.0 C298.4,64.3 298.8,64.3 300.2,64.5 C301.6,64.7 303.6,64.8 305.4,65.1 C307.1,65.4 308.9,65.7 310.7,66.1 C312.4,66.5 314.2,66.9 315.9,67.3 C317.6,67.7 319.4,68.2 321.1,68.4 C322.8,68.6 324.6,68.6 326.3,68.7 C328.0,68.8 329.8,68.9 331.5,69.2 C333.2,69.5 335.1,69.9 336.8,70.3 C338.6,70.7 340.6,71.2 342.0,71.5 C343.4,71.8 343.8,72.1 345.2,72.3 C346.6,72.5 348.6,72.6 350.4,72.7 C352.1,72.8 353.9,72.7 355.7,72.9 C357.4,73.1 359.2,73.4 360.9,73.7 C362.6,74.0 364.4,74.5 366.1,74.8 C367.8,75.1 369.6,75.2 371.3,75.3 C373.0,75.4 374.8,75.2 376.5,75.3 C378.2,75.4 380.3,75.6 381.8,75.8 C383.3,76.0 384.1,76.0 385.5,76.2 C386.9,76.4 388.6,76.8 390.2,77.1 C391.8,77.4 393.6,77.7 395.4,77.8 C397.1,77.9 398.9,77.6 400.7,77.7 C402.4,77.8 404.2,78.0 405.9,78.2 C407.6,78.5 409.4,79.0 411.1,79.2 C412.8,79.5 414.6,79.6 416.3,79.7 C418.0,79.8 419.8,79.7 421.5,79.7 C423.2,79.8 425.3,79.9 426.8,80.0 C428.3,80.1 429.1,80.0 430.5,80.1 C431.9,80.2 433.6,80.3 435.2,80.6 C436.8,80.9 438.6,81.4 440.4,81.7 C442.1,82.0 443.9,82.1 445.7,82.2 C447.4,82.3 449.2,82.2 450.9,82.2 C452.6,82.2 454.4,82.3 456.1,82.5 C457.8,82.7 459.6,82.9 461.3,83.2 C463.0,83.5 464.8,84.0 466.5,84.3 C468.2,84.6 470.1,84.7 471.8,84.8 C473.6,84.9 475.1,84.9 477.0,84.8 C478.9,84.7 481.3,84.6 483.2,84.3 C485.1,84.0 486.6,83.5 488.4,83.2 C490.1,82.9 491.9,82.6 493.7,82.7 C495.4,82.8 497.2,83.2 498.9,83.7 C500.6,84.2 502.4,85.2 504.1,85.8 C505.8,86.4 507.6,86.9 509.3,87.4 C511.0,87.9 512.8,88.5 514.5,88.8 C516.2,89.1 518.4,89.2 519.8,89.2 C521.2,89.2 521.9,89.2 522.9,89.0 C523.9,88.8 525.3,88.2 525.8,88.0" fill="none" stroke="#00f" stroke-width="2.3" stroke-linejoin="round" stroke-linecap="butt"/>
<path d="M72.8,244.2 C73.1,244.5 73.9,245.4 74.5,245.9 C75.1,246.4 75.7,246.9 76.4,247.3 C77.1,247.7 77.9,248.0 78.8,248.5 C79.7,249.0 80.3,249.6 81.7,250.1 C83.1,250.6 85.2,251.1 86.9,251.6 C88.6,252.1 90.4,252.4 92.1,252.8 C93.8,253.2 95.6,253.6 97.3,254.0 C99.0,254.4 100.8,254.7 102.5,255.0 C104.2,255.3 106.2,255.6 107.8,255.9 C109.4,256.2 110.3,256.6 112.0,256.9 C113.7,257.2 115.5,257.5 118.0,257.9 C120.5,258.3 124.1,258.8 127.1,259.2 C130.1,259.6 133.2,260.1 136.2,260.5 C139.2,260.9 142.3,261.4 145.3,261.9 C148.3,262.3 151.8,262.8 154.4,263.2 C157.0,263.6 158.7,263.9 161.0,264.2 C163.3,264.5 165.5,264.8 168.0,265.2 C170.5,265.6 172.8,266.0 176.0,266.4 C179.2,266.8 183.3,267.2 187.0,267.6 C190.7,268.0 194.3,268.5 198.0,268.9 C201.7,269.3 205.4,269.7 209.0,270.1 C212.6,270.5 216.8,270.9 219.5,271.2 C222.2,271.5 223.1,271.6 225.0,271.8 C226.9,272.0 228.8,272.3 231.0,272.5 C233.2,272.7 235.8,272.9 238.0,273.0 C240.2,273.1 241.8,273.1 244.0,273.1 C246.2,273.1 248.8,273.0 251.1,272.8 C253.3,272.6 255.3,272.3 257.5,272.0 C259.7,271.7 262.1,271.3 264.2,271.1 C266.3,270.9 268.2,270.9 270.0,270.7 C271.8,270.5 273.5,270.2 275.2,270.1 C276.9,270.0 278.6,269.9 280.4,269.8 C282.1,269.7 283.9,269.6 285.7,269.6 C287.4,269.6 289.2,269.5 290.9,269.6 C292.6,269.7 294.4,269.9 296.1,270.0 C297.8,270.1 299.6,270.3 301.3,270.5 C303.0,270.7 304.8,270.9 306.5,271.1 C308.2,271.3 310.1,271.4 311.8,271.6 C313.6,271.8 315.4,272.1 317.0,272.4 C318.6,272.7 319.6,272.9 321.5,273.2 C323.4,273.5 325.9,273.9 328.1,274.3 C330.3,274.7 332.4,275.2 334.6,275.8 C336.8,276.4 338.9,277.3 341.1,278.0 C343.3,278.7 345.4,279.5 347.6,280.2 C349.8,280.9 352.1,281.5 354.2,282.0 C356.3,282.5 358.7,282.9 360.5,283.2 C362.3,283.5 363.6,283.6 365.2,283.8 C366.8,284.0 368.6,284.3 370.4,284.6 C372.1,284.9 373.9,285.3 375.7,285.6 C377.4,285.9 379.2,286.2 380.9,286.5 C382.6,286.8 384.4,287.0 386.1,287.2 C387.8,287.4 389.6,287.6 391.3,287.7 C393.0,287.8 394.8,287.8 396.5,287.9 C398.2,288.0 400.1,288.0 401.8,288.1 C403.6,288.2 405.6,288.3 407.0,288.4 C408.4,288.5 408.8,288.6 410.2,288.6 C411.6,288.6 413.6,288.6 415.4,288.6 C417.1,288.6 418.9,288.5 420.7,288.4 C422.4,288.3 424.2,288.2 425.9,288.0 C427.6,287.8 429.4,287.5 431.1,287.3 C432.8,287.1 434.6,286.8 436.3,286.6 C438.0,286.4 439.8,286.1 441.5,285.9 C443.2,285.7 445.1,285.4 446.8,285.2 C448.6,285.0 450.6,284.7 452.0,284.5 C453.4,284.3 453.8,284.2 455.2,284.0 C456.6,283.8 458.6,283.5 460.4,283.3 C462.1,283.1 463.9,282.9 465.7,282.6 C467.4,282.3 469.2,282.0 470.9,281.7 C472.6,281.4 474.4,281.1 476.1,280.8 C477.8,280.5 479.6,280.3 481.3,280.0 C483.0,279.7 484.8,279.4 486.5,279.2 C488.2,279.0 489.8,278.8 491.8,278.6 C493.8,278.4 495.9,278.3 498.4,278.1 C500.9,277.9 503.9,277.7 506.7,277.5 C509.5,277.3 511.8,277.1 515.0,277.0 C518.2,276.9 523.9,276.9 525.7,276.9" fill="none" stroke="#00f" stroke-width="2.3" stroke-linejoin="round" stroke-linecap="butt"/>
<circle cx="447.3" cy="88.5" r="0.8" fill="#f00"/>
<circle cx="74.3" cy="14.3" r="1.15" fill="#000"/>
<circle cx="74.3" cy="29.1" r="1.15" fill="#f00"/>
<circle cx="74.3" cy="43.9" r="1.15" fill="#00f"/>
<text transform="translate(87.00,18.80) scale(1,0.880)" font-size="11.65" fill="#585858">As-built</text><text transform="translate(87.00,33.80) scale(1,0.880)" font-size="11.65" fill="#585858">Sample 1</text><text transform="translate(87.00,48.80) scale(1,0.880)" font-size="11.65" fill="#585858">Sample 2</text>
<g stroke="#444" stroke-width="1" fill="none"><line x1="417" y1="45" x2="358" y2="60.2"/><line x1="149.1" y1="296.4" x2="225" y2="280.8"/></g>
<path d="M352.6,61.4 L358.8,56.6 L358.0,59.6 L360.4,62.6 Z" fill="#000"/>
<path d="M231.4,279.6 L224.0,277.3 L226.0,280.6 L225.2,284.2 Z" fill="#000"/>
<text transform="translate(419.50,48.30) scale(1,0.900)" font-size="13" fill="#585858">Cooling</text><text transform="translate(90.50,300.20) scale(1,0.900)" font-size="13" fill="#585858">Heating</text>
</svg>
</body></html>
